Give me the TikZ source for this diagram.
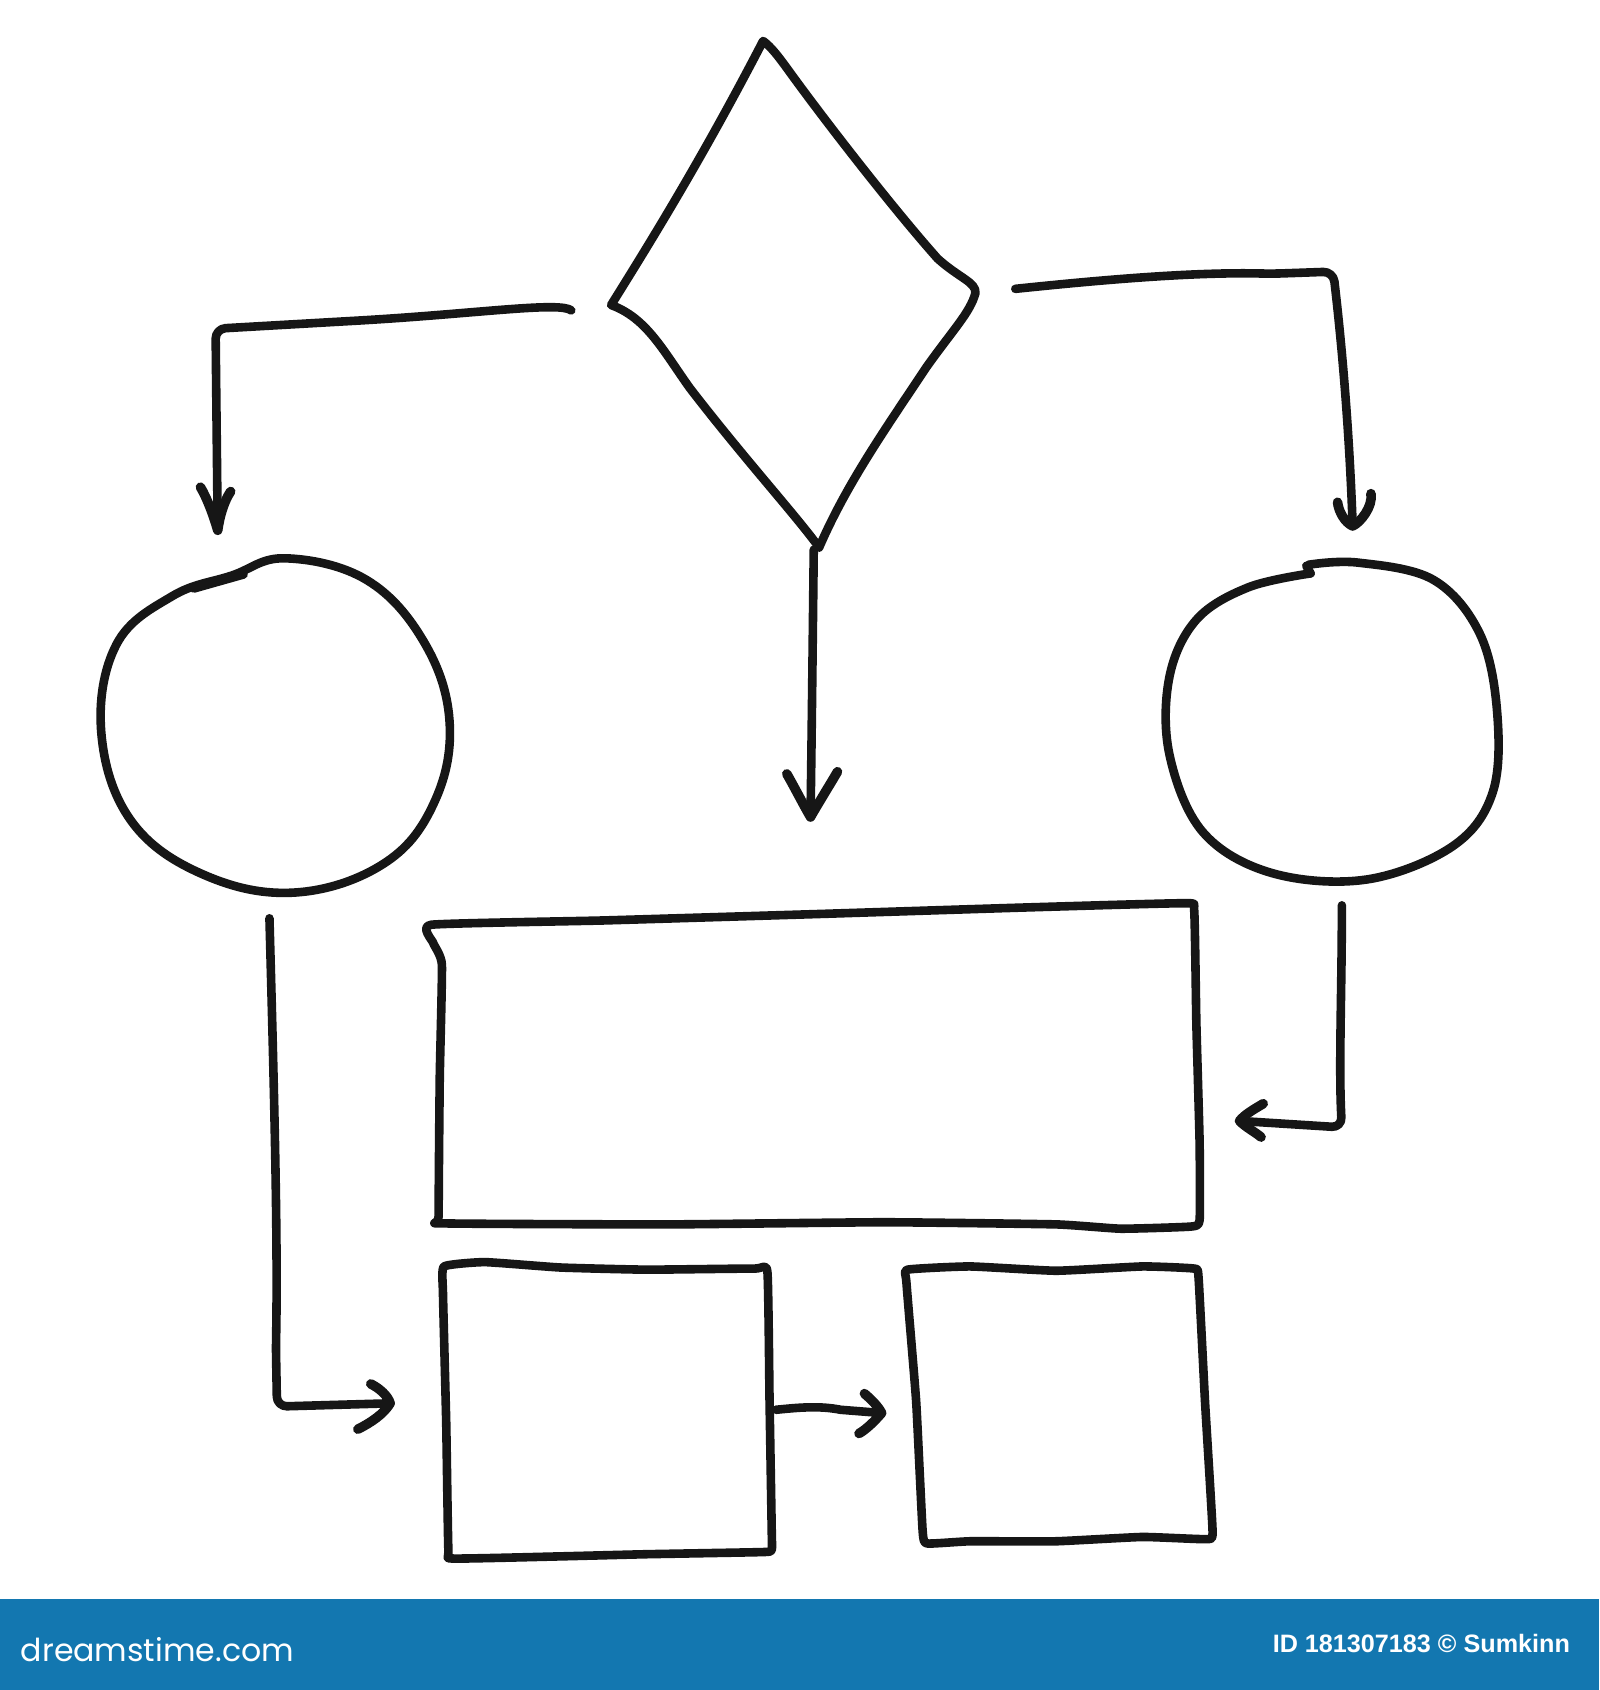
\documentclass[tikz,border=0pt]{standalone}
\usepackage{fontspec}
\newfontfamily\logofont{Poppins}
\newfontfamily\idfont{Liberation Sans}
\definecolor{inkc}{RGB}{22,22,22}
\definecolor{barblue}{RGB}{19,119,176}
\begin{document}
\begin{tikzpicture}[x=0.5391pt,y=-0.5391pt,
  ink/.style={draw=inkc, line width=4.3pt, line cap=round, line join=round},
  headv/.style={draw=inkc, line width=4.8pt, line cap=round, line join=round}]
\useasboundingbox (0,0) rectangle (1484,1568);
\fill[white] (0,0) rectangle (1484,1568);

% ---------- diamond ----------
\coordinate (dT) at (708,38);
\coordinate (dR) at (905,272);
\coordinate (dB) at (760,508);
\coordinate (dL) at (567,283);
\draw[ink] (dT) .. controls (716,44) and (722,52) .. (735,70)
  .. controls (770,118) and (830,195) .. (870,240)
  .. controls (890,258) and (906,262) .. (dR)
  .. controls (900,290) and (885,305) .. (860,340)
  .. controls (820,400) and (785,450) .. (dB)
  .. controls (740,480) and (690,425) .. (640,360)
  .. controls (615,325) and (600,295) .. (dL)
  .. controls (600,230) and (650,150) .. (dT) -- cycle;

% ---------- left circle ----------
\coordinate (lcT) at (265,518);
\coordinate (lcB) at (270,828);
\draw[ink] plot[smooth cycle, tension=0.65] coordinates {
  (265,518) (340,538) (393,595) (417,668) (404,742) (358,800) (275,828)
  (190,812) (122,762) (94,680) (108,598) (160,553) (215,534)};
\draw[ink] (180,546) -- (226,533);

% ---------- right circle ----------
\coordinate (rcT) at (1250,522);
\coordinate (rcB) at (1245,818);
\draw[ink] plot[smooth, tension=0.6] coordinates {
  (1214,524) (1260,522) (1330,538) (1373,588) (1389,660) (1385,735) (1348,785)
  (1268,816) (1180,810) (1116,772) (1085,700) (1085,628) (1110,575)
  (1158,545) (1216,532)};
\draw[ink] (1216,532) -- (1212,525);

% ---------- big rectangle ----------
\coordinate (brTL) at (397,860);
\coordinate (brR) at (1110,1040);
\draw[ink] plot[smooth cycle, tension=0.25] coordinates {
  (400,858) (560,854) (760,848) (950,842) (1100,838) (1108,845)
  (1110,950) (1113,1060) (1113,1132) (1105,1138)
  (1040,1140) (980,1136) (820,1134) (620,1136) (410,1135)
  (407,1128) (408,1000) (410,895) (402,875)};

% ---------- bottom left rectangle ----------
\coordinate (blL) at (410,1305);
\coordinate (blR) at (716,1308);
\draw[ink] plot[smooth cycle, tension=0.25] coordinates {
  (412,1175) (450,1171) (520,1176) (600,1178) (700,1177) (712,1180)
  (714,1300) (716,1420) (716,1438) (708,1440)
  (600,1442) (520,1444) (420,1446) (416,1438)
  (414,1320) (411,1200)};

% ---------- bottom right rectangle ----------
\coordinate (brL) at (840,1310);
\draw[ink] plot[smooth cycle, tension=0.25] coordinates {
  (842,1178) (900,1175) (980,1179) (1060,1175) (1108,1177) (1112,1185)
  (1118,1300) (1125,1420) (1120,1428)
  (1060,1426) (980,1430) (900,1430) (860,1432) (856,1420)
  (850,1300) (841,1190)};

% ---------- connectors ----------
% diamond -> left circle
\coordinate (a1s) at (530,288);
\coordinate (a1c) at (200,305);
\coordinate (a1t) at (202,492);
\draw[ink, rounded corners=5pt] (a1s) .. controls (520,280) and (450,290) .. (340,297)
  -- (a1c) -- (a1t);
\draw[headv] (186,452) .. controls (192,462) and (198,478) .. (a1t)
  .. controls (204,478) and (208,465) .. (214,456);

% diamond -> right circle
\coordinate (a2s) at (942,268);
\coordinate (a2c) at (1237,252);
\coordinate (a2t) at (1255,488);
\draw[ink, rounded corners=5pt] (a2s) .. controls (1000,262) and (1100,252) .. (1180,254)
  -- (a2c) .. controls (1245,320) and (1252,400) .. (a2t);
\draw[headv] (1241,466) .. controls (1242,475) and (1248,485) .. (a2t)
  .. controls (1262,485) and (1274,470) .. (1272,458);

% diamond -> middle
\coordinate (a3s) at (755,510);
\coordinate (a3t) at (752,758);
\draw[ink] (a3s) .. controls (754,600) and (753,690) .. (a3t);
\draw[headv] (730,718) .. controls (738,732) and (745,746) .. (a3t)
  .. controls (760,744) and (770,728) .. (777,716);

% right circle -> big rectangle
\coordinate (a4s) at (1245,840);
\coordinate (a4c) at (1245,1046);
\coordinate (a4t) at (1150,1040);
\draw[ink, rounded corners=5pt] (a4s) .. controls (1245,920) and (1242,990) .. (a4c) -- (a4t);
\draw[headv] (1172,1024) .. controls (1162,1030) and (1155,1034) .. (a4t)
  .. controls (1156,1046) and (1164,1050) .. (1170,1055);

% left circle -> bottom left rectangle
\coordinate (a5s) at (250,852);
\coordinate (a5c) at (257,1305);
\coordinate (a5t) at (362,1302);
\draw[ink, rounded corners=5pt] (a5s) .. controls (254,1000) and (258,1150) .. (256,1250) -- (a5c) -- (a5t);
\draw[headv] (344,1284) .. controls (352,1288) and (360,1295) .. (a5t)
  .. controls (356,1312) and (344,1320) .. (332,1326);

% bottom left -> bottom right rectangle
\coordinate (a6s) at (720,1308);
\coordinate (a6t) at (818,1311);
\draw[ink] (a6s) .. controls (740,1306) and (760,1304) .. (780,1308) -- (a6t);
\draw[headv] (802,1293) .. controls (808,1298) and (815,1305) .. (a6t)
  .. controls (812,1318) and (804,1326) .. (797,1330);

% ---------- footer bar ----------
\fill[barblue] (0,1484) rectangle (1484,1568);
\node[anchor=base west, text=white, inner sep=0pt, font=\logofont\fontsize{15.8pt}{16pt}\selectfont] (logo) at (19,1542) {dreamstime.com};
\node[anchor=base east, text=white, inner sep=0pt, font=\idfont\bfseries\fontsize{12.6pt}{13pt}\selectfont] (credit) at (1457,1533) {ID 181307183 © Sumkinn};
\end{tikzpicture}
\end{document}
